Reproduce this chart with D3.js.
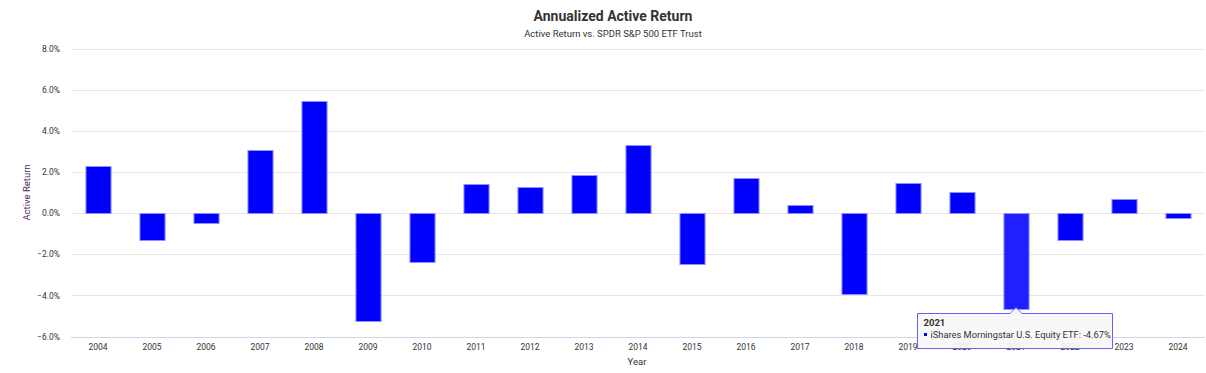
<!DOCTYPE html>
<html><head><meta charset="utf-8">
<script src="https://cdn.jsdelivr.net/npm/d3@7"></script>
<style>
html,body{margin:0;padding:0;background:#fff;}
svg{display:block;font-family:Roboto,"Noto Sans",sans-serif;}
</style></head>
<body><svg id="c" width="1206" height="373"></svg>
<script>
const years = ["2004","2005","2006","2007","2008","2009","2010","2011","2012","2013","2014","2015","2016","2017","2018","2019","2020","2021","2022","2023","2024"];
const activeReturn = [2.27,-1.33,-0.50,3.05,5.44,-5.25,-2.40,1.39,1.25,1.83,3.32,-2.48,1.72,0.37,-3.92,1.44,1.01,-4.67,-1.30,0.70,-0.24];
const yTicks = [-6,-4,-2,0,2,4,6,8];
const seriesName = "iShares Morningstar U.S. Equity ETF";
const hoverYear = "2021";

const svg = d3.select("#c");
const m = {left:71, right:1205, top:48.5, bottom:336.5};
const x = d3.scaleBand().domain(years).range([m.left, m.right]).paddingInner(0.535).paddingOuter(0.2675);
const y = d3.scaleLinear().domain([-6,8]).range([m.bottom, m.top]);

// gridlines
svg.append("g").selectAll("line").data(yTicks.filter(d=>d!==-6)).join("line")
  .attr("x1", m.left).attr("x2", m.right)
  .attr("y1", d=>Math.round(y(d))+0.5).attr("y2", d=>Math.round(y(d))+0.5)
  .attr("stroke", "#e6e6e6").attr("stroke-width", 1);

// y axis labels
const yAxis = d3.axisLeft(y).tickValues(yTicks).tickFormat(d=>d3.format(".1f")(d)+"%").tickSize(0).tickPadding(11);
const ga = svg.append("g").attr("transform", `translate(${m.left},0)`).call(yAxis);
ga.select(".domain").remove();
ga.selectAll("text").attr("font-size", 8.5).attr("fill", "#333").attr("font-family","Roboto,sans-serif");

// x axis
const xAxis = d3.axisBottom(x).tickSize(0).tickPadding(6);
const gx = svg.append("g").attr("transform", `translate(0,${Math.round(m.bottom)+0.5})`).call(xAxis);
gx.select(".domain").attr("stroke", "#ccd6eb").attr("d", `M${m.left},0H${m.right}`);
gx.selectAll("text").attr("font-size", 8.5).attr("fill", "#333").attr("font-family","Roboto,sans-serif");

// bars
svg.append("g").selectAll("rect").data(years.map((yr,i)=>({yr, v:activeReturn[i]}))).join("rect")
  .attr("x", d=>x(d.yr)+0.5)
  .attr("width", x.bandwidth())
  .attr("y", d=>Math.round(y(Math.max(0,d.v)))+0.5)
  .attr("height", d=>Math.abs(Math.round(y(d.v))-Math.round(y(0))))
  .attr("fill", d=>d.yr===hoverYear ? "#1f1fff" : "#0000ff")
  .attr("stroke", "#8f8fff").attr("stroke-width", 1);

// titles
svg.append("text").attr("x", 613).attr("y", 21).attr("text-anchor","middle")
  .attr("font-size", 14).attr("font-weight", 700).attr("fill", "#333").text("Annualized Active Return");
svg.append("text").attr("x", 613).attr("y", 37).attr("text-anchor","middle")
  .attr("font-size", 9.5).attr("fill", "#333").text("Active Return vs. SPDR S&P 500 ETF Trust");
svg.append("text").attr("transform", `translate(30,${y(1)}) rotate(-90)`).attr("text-anchor","middle")
  .attr("font-size", 9.5).attr("fill", "#4b2a5a").text("Active Return");
svg.append("text").attr("x", 637).attr("y", 365).attr("text-anchor","middle")
  .attr("font-size", 9.5).attr("fill", "#333").text("Year");

// tooltip
const hi = years.indexOf(hoverYear);
const cx = x(hoverYear) + x.bandwidth()/2;
const tipTop = Math.round(y(activeReturn[hi])) + 4.5;
const tx0 = 917.5, tx1 = 1112.5, ty1 = 348.5;
const tip = svg.append("g");
tip.append("path")
  .attr("d", `M${tx0},${tipTop}H${cx-6}L${cx},${tipTop-6}L${cx+6},${tipTop}H${tx1}V${ty1}H${tx0}Z`)
  .attr("fill", "rgba(247,247,247,0.92)").attr("stroke", "#6262ff").attr("stroke-width", 1);
tip.append("text").attr("x", tx0+6).attr("y", tipTop+12.5).attr("font-size", 9.5).attr("font-weight", 700)
  .attr("fill","#333").text(hoverYear);
tip.append("rect").attr("x", tx0+6.5).attr("y", tipTop+19.5).attr("width", 3).attr("height", 3).attr("fill", "#0000ff");
tip.append("text").attr("x", tx0+13).attr("y", tipTop+24.5).attr("font-size", 9.3)
  .attr("fill","#333").text(`${seriesName}: ${activeReturn[hi].toFixed(2)}%`);
</script></body></html>
